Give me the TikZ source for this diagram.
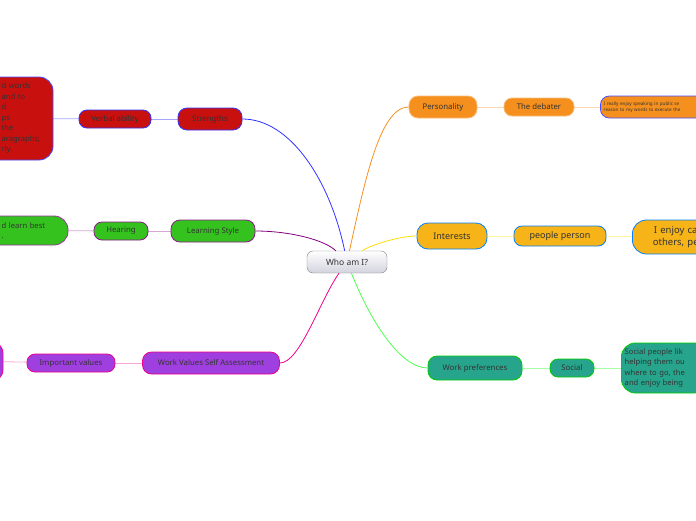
\documentclass[tikz,border=0pt]{standalone}
\usepackage{fontspec}
\setmainfont{Noto Sans}
\usetikzlibrary{positioning}
\definecolor{redfill}{HTML}{C8100F}
\definecolor{greenfill}{HTML}{35C21F}
\definecolor{purplefill}{HTML}{A03FE0}
\definecolor{orangefill}{HTML}{F5901E}
\definecolor{yellowfill}{HTML}{F6B418}
\definecolor{tealfill}{HTML}{27A48C}
\tikzset{
  topic/.style={rectangle,rounded corners=9pt,minimum height=22pt,font=\fontsize{7.8}{9}\selectfont,text=black!80,line width=0.8pt,inner xsep=6pt},
  subtopic/.style={topic,minimum height=18pt,rounded corners=8pt},
  note/.style={rectangle,rounded corners=14pt,font=\fontsize{7.6}{10.5}\selectfont,text=black!80,line width=0.8pt,align=left,anchor=west},
  branch/.style={line width=0.8pt},
  twig/.style={line width=0.8pt,opacity=0.35}
}
\begin{document}
\begin{tikzpicture}[x=1pt,y=1pt]
\useasboundingbox (0,0) rectangle (696,-520);
\begin{scope}
\clip (0,0) rectangle (696,-520);

\node (root) [rectangle,rounded corners=6pt,draw=black!50,top color=white,bottom color=blue!15!gray!30,minimum width=80pt,minimum height=22pt,font=\fontsize{8.5}{10}\selectfont\bfseries,text=black!80] at (347,-262) {Who am I?};

% left side
\node (str) [topic,fill=redfill,draw=blue!80,minimum width=64pt] at (210,-119) {Strengths};
\node (verb) [subtopic,fill=redfill,draw=blue!80,minimum width=72pt] at (115,-119) {Verbal ability};
\node (verbnote) [note,fill=redfill,draw=blue!70,minimum height=83pt,text width=66pt] at (-20,-118.5) {\hspace*{18pt}d words\\\hspace*{18pt}and to\\\hspace*{18pt}d\\\hspace*{18pt}ps\\\hspace*{18pt}the\\\hspace*{18pt}aragraphs;\\\hspace*{18pt}rly.};

\node (learn) [topic,fill=greenfill,draw=violet!90,minimum width=84pt] at (213,-231) {Learning Style};
\node (hear) [subtopic,fill=greenfill,draw=violet!90,minimum width=54pt] at (121,-231) {Hearing};
\node (hearnote) [note,fill=greenfill,draw=violet!80,minimum height=29pt,text width=81pt] at (-20,-230.5) {\hspace*{18pt}d learn best\\\hspace*{18pt}.};

\node (work) [topic,fill=purplefill,draw=magenta,minimum width=137pt] at (211,-363) {Work Values Self Assessment};
\node (imp) [subtopic,fill=purplefill,draw=magenta,minimum width=88pt] at (71,-363) {Important values};
\node (impnote) [note,fill=purplefill,draw=magenta,minimum height=43pt,text width=12pt] at (-16,-361.5) {};

% right side
\node (pers) [topic,fill=orangefill,draw=orangefill!60,minimum width=68pt] at (443,-107) {Personality};
\node (deb) [subtopic,fill=orangefill,draw=orangefill!60,minimum width=70pt] at (539,-107) {The debater};
\node (debnote) [note,fill=orangefill,draw=blue!70,rounded corners=9pt,minimum height=22pt,text width=110pt,font=\fontsize{4.6}{6}\selectfont] at (600,-107) {I really enjoy speaking in public se\\reason to my words to execute the};

\node (intr) [topic,fill=yellowfill,draw=blue!50!cyan,minimum width=70pt,minimum height=26pt,rounded corners=11pt,font=\fontsize{9}{10}\selectfont] at (452,-236) {Interests};
\node (ppl) [subtopic,fill=yellowfill,draw=blue!50!cyan,minimum width=92pt,minimum height=20pt,font=\fontsize{9}{10}\selectfont] at (560,-236) {people person};
\node (pplnote) [note,fill=yellowfill,draw=blue!50!cyan,minimum height=34pt,text width=80pt,font=\fontsize{9.5}{12}\selectfont,align=center] at (632,-237) {I enjoy ca\\others, pe};

\node (wpref) [topic,fill=tealfill,draw=green!80!black,minimum width=94pt,minimum height=24pt] at (475,-368) {Work preferences};
\node (soc) [subtopic,fill=tealfill,draw=green!80!black,minimum width=44pt] at (572,-368) {Social};
\node (socnote) [note,fill=tealfill,draw=green!80!black,minimum height=50pt,text width=80pt] at (621,-368) {Social people lik\\helping them ou\\where to go, the\\and enjoy being};

% branches
\draw[branch,blue!80] (root) .. controls (330,-180) and (290,-119) .. (str.east);
\draw[branch,violet] (root) .. controls (325,-240) and (290,-231) .. (learn.east);
\draw[branch,magenta] (root) .. controls (320,-300) and (300,-363) .. (work.east);
\draw[branch,orangefill] (root) .. controls (365,-180) and (380,-107) .. (pers.west);
\draw[branch,yellow!80!orange] (root) .. controls (370,-245) and (400,-236) .. (intr.west);
\draw[branch,green!70] (root) .. controls (370,-320) and (400,-368) .. (wpref.west);

% twigs
\draw[twig,blue] (str) -- (verb);
\draw[twig,blue] (verb) -- (verbnote);
\draw[twig,violet] (learn) -- (hear);
\draw[twig,violet] (hear) -- (hearnote);
\draw[twig,magenta] (work) -- (imp);
\draw[twig,magenta] (imp) -- (impnote);
\draw[twig,orangefill] (pers) -- (deb);
\draw[twig,orangefill] (deb) -- (debnote);
\draw[twig,yellow!80!orange] (intr) -- (ppl);
\draw[twig,yellow!80!orange] (ppl) -- (pplnote);
\draw[twig,green] (wpref) -- (soc);
\draw[twig,green] (soc) -- (socnote);
\end{scope}
\end{tikzpicture}
\end{document}
